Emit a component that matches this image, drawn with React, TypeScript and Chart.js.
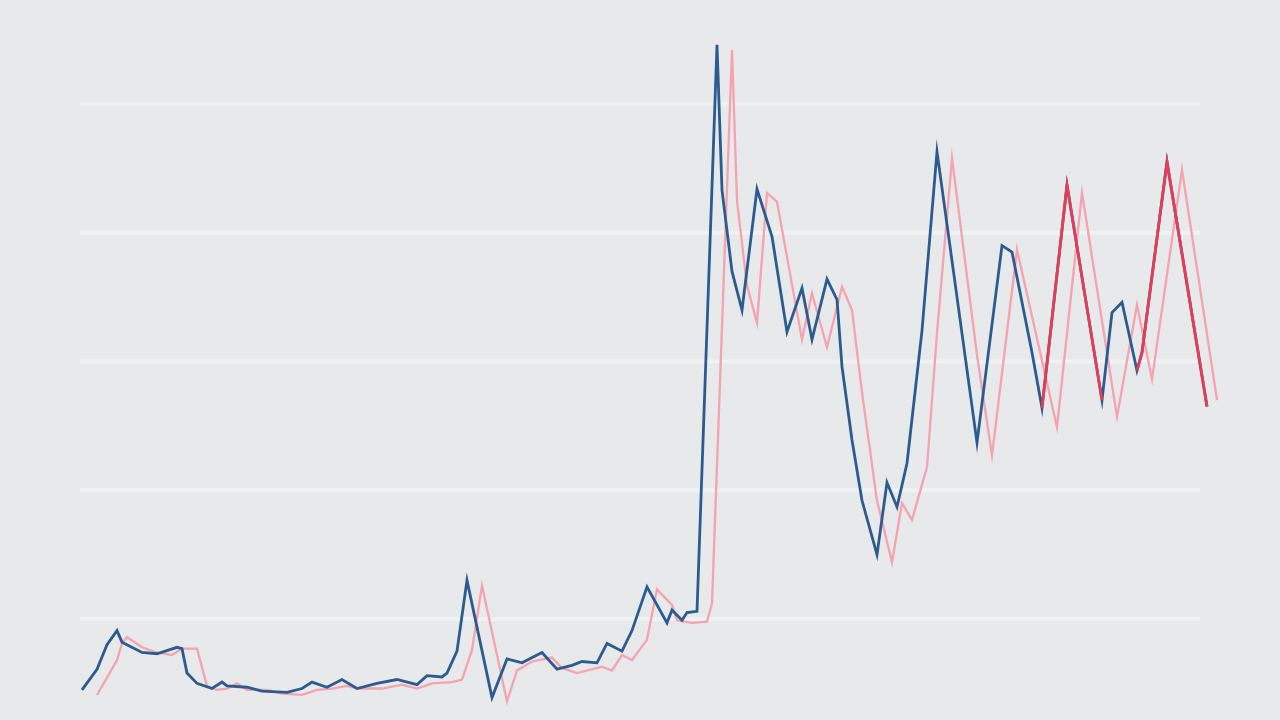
import React, { useEffect, useRef } from "react";
import { Chart, registerables } from "chart.js";

Chart.register(...registerables);

// time index (x) and value (y) of each vertex
const actualX = [0, 3, 5, 7, 8, 12, 15, 19, 20, 21, 23, 26, 28, 29, 33, 36, 41, 44, 46, 49, 52, 55, 59, 63, 67, 69, 72, 73, 75, 77, 82, 85, 88, 92, 95, 98, 100, 103, 105, 108, 110, 113, 117, 118, 120, 121, 123, 127, 128, 130, 132, 135, 138, 141, 144, 146, 149, 151, 152, 154, 156, 159, 161, 163, 165, 168, 171, 179, 184, 186, 190, 192, 197, 204, 206, 208, 211, 212, 217, 225];
const actualY = [45, 61, 80, 91, 82, 74, 73, 78, 77, 58, 50, 46, 51, 48, 47, 44, 43, 46, 51, 47, 53, 46, 50, 53, 49, 56, 55, 58, 75, 130, 39, 69, 66, 74, 61, 64, 67, 66, 81, 75, 91, 125, 97, 107, 99, 105, 106, 546, 433, 370, 340, 434, 397, 323, 357, 317, 364, 348, 296, 239, 192, 150, 206, 187, 221, 324, 463, 237, 390, 385, 307, 264, 437, 270, 338, 346, 293, 307, 455, 265];

const laggedX = [3, 7, 8, 9, 12, 15, 18, 20, 23, 25, 27, 29, 31, 33, 37, 40, 44, 47, 50, 53, 55, 60, 64, 67, 70, 74, 76, 78, 80, 85, 87, 90, 94, 96, 99, 104, 106, 108, 110, 113, 115, 118, 119, 122, 125, 126, 130, 131, 133, 135, 137, 139, 144, 146, 149, 152, 154, 156, 159, 162, 164, 166, 169, 171, 174, 179, 182, 187, 195, 200, 207, 211, 214, 220, 227];
const laggedY = [41, 68, 81, 86, 78, 74, 72, 77, 77, 48, 45, 46, 50, 45, 45, 42, 41, 45, 46, 48, 46, 46, 49, 46, 50, 51, 53, 76, 126, 36, 60, 67, 70, 62, 58, 63, 60, 72, 68, 84, 123, 111, 99, 97, 98, 112, 542, 425, 359, 330, 431, 424, 317, 353, 311, 358, 340, 276, 192, 144, 190, 177, 218, 322, 458, 305, 227, 387, 249, 431, 257, 344, 286, 449, 270];

const highlightX = [192, 197, 204, 208, 211, 212, 217, 225];
const highlightY: (number | null)[] = [264, 437, 270, null, 293, 307, 455, 265];

const gridValues = [100, 200, 300, 400, 500];
const gridFrom = -0.4;
const gridTo = 223.6;

const toPoints = (xs: number[], ys: (number | null)[]) => xs.map((x, i) => ({ x, y: ys[i] }));

export default function App() {
  const ref = useRef<HTMLCanvasElement | null>(null);

  useEffect(() => {
    if (!ref.current) return;
    const gridPlugin = {
      id: "softGrid",
      beforeDatasetsDraw(chart: any) {
        const { ctx, scales } = chart;
        const xs = scales.x;
        const ys = scales.y;
        ctx.save();
        ctx.strokeStyle = "#eff1f2";
        ctx.lineWidth = 4;
        const x0 = xs.getPixelForValue(gridFrom);
        const x1 = xs.getPixelForValue(gridTo);
        gridValues.forEach((v) => {
          const y = ys.getPixelForValue(v);
          ctx.beginPath();
          ctx.moveTo(x0, y);
          ctx.lineTo(x1, y);
          ctx.stroke();
        });
        ctx.restore();
      },
    };
    const chart = new Chart(ref.current, {
      type: "line",
      data: {
        datasets: [
          {
            label: "highlight",
            data: toPoints(highlightX, highlightY),
            borderColor: "#e83c55",
            borderWidth: 2.8,
            pointRadius: 0,
            tension: 0,
            spanGaps: false,
          },
          {
            label: "actual",
            data: toPoints(actualX, actualY),
            borderColor: "#2b5b8f",
            borderWidth: 2.8,
            pointRadius: 0,
            tension: 0,
          },
          {
            label: "lagged",
            data: toPoints(laggedX, laggedY),
            borderColor: "#f5a3b0",
            borderWidth: 2.3,
            pointRadius: 0,
            tension: 0,
          },
        ],
      },
      options: {
        animation: false,
        responsive: false,
        layout: { padding: 0 },
        plugins: { legend: { display: false }, tooltip: { enabled: false } },
        scales: {
          x: { type: "linear", display: false, min: -16.4, max: 239.6 },
          y: { type: "linear", display: false, min: 21.55, max: 580.78 },
        },
      },
      plugins: [gridPlugin],
    });
    return () => chart.destroy();
  }, []);

  return (
    <div style={{ position: "fixed", left: 0, top: 0, width: 1280, height: 720, background: "#e7e9ea" }}>
      <canvas ref={ref} width={1280} height={720} style={{ display: "block" }} />
    </div>
  );
}
